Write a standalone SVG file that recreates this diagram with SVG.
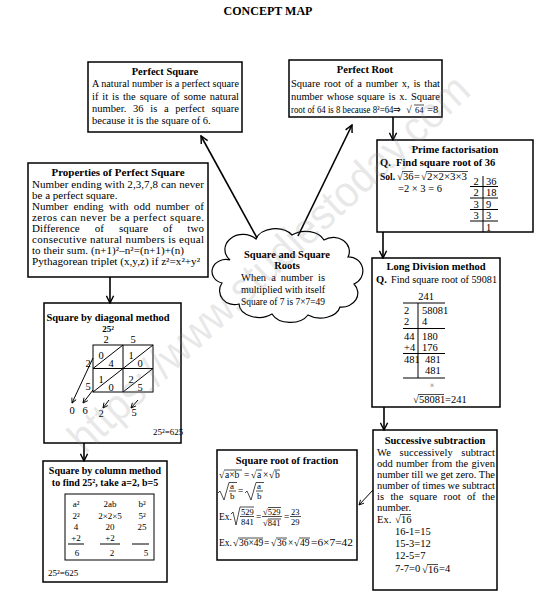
<svg xmlns="http://www.w3.org/2000/svg" width="539" height="598" viewBox="0 0 539 598">
<defs>
<style>
.t{font-family:"Liberation Serif","Times New Roman",serif;font-size:10.5px;fill:#000}
.b{font-weight:bold}
.m{text-anchor:middle}
.box{fill:#fff;stroke:#000;stroke-width:1.5}
.ln{stroke:#000;stroke-width:1;fill:none}
.ov{stroke:#000;stroke-width:0.7;fill:none}
.con{stroke:#000;stroke-width:1.6;fill:none}
.sm{font-size:8.5px}
.p{font-size:11px}
</style>
<marker id="ah" viewBox="0 0 10 10" refX="9" refY="5" markerWidth="9" markerHeight="9" markerUnits="userSpaceOnUse" orient="auto">
<path d="M1,1 L9,5 L1,9" fill="none" stroke="#000" stroke-width="1.6"/>
</marker>
<marker id="ahs" viewBox="0 0 10 10" refX="9" refY="5" markerWidth="6" markerHeight="6" markerUnits="userSpaceOnUse" orient="auto">
<path d="M1,1 L9,5 L1,9" fill="none" stroke="#000" stroke-width="1.5"/>
</marker>
</defs>
<rect width="539" height="598" fill="#fff"/>
<text class="t b m" x="268" y="15" style="font-size:12px">CONCEPT MAP</text>

<g id="perfect-square">
<rect class="box" x="88" y="62" width="154" height="70"/>
<text class="t b m" x="165" y="75">Perfect Square</text>
<text class="t" x="92" y="87" textLength="147" lengthAdjust="spacingAndGlyphs">A natural number is a perfect square</text>
<text class="t" x="92" y="99.5" word-spacing="1.2" textLength="147" lengthAdjust="spacing">if it is the square of some natural</text>
<text class="t" x="92" y="112" word-spacing="4" textLength="147" lengthAdjust="spacing">number. 36 is a perfect square</text>
<text class="t" x="92" y="124">because it is the square of 6.</text>
</g>

<g id="perfect-root">
<rect class="box" x="289" y="60" width="153" height="57"/>
<text class="t b m" x="365" y="73">Perfect Root</text>
<text class="t" x="291" y="87" word-spacing="1.2" textLength="149" lengthAdjust="spacing">Square root of a number x, is that</text>
<text class="t" x="291" y="100" word-spacing="1.2" textLength="149" lengthAdjust="spacing">number whose square is x. Square</text>
<text class="t" x="291" y="113" textLength="110" lengthAdjust="spacingAndGlyphs">root of 64 is 8 because 8²=64⇒</text>
<text class="t" x="406" y="113">√</text>
<text class="t sm" x="415" y="113">64</text>
<line class="ov" x1="414" y1="105" x2="424" y2="105"/>
<text class="t" x="427" y="113">=8</text>
</g>

<g id="properties">
<rect class="box" x="28" y="163" width="180" height="114"/>
<text class="t b m p" x="118" y="176">Properties of Perfect Square</text>
<text class="t p" x="32" y="188" textLength="172" lengthAdjust="spacing">Number ending with 2,3,7,8 can never</text>
<text class="t p" x="32" y="199">be a perfect square.</text>
<text class="t p" x="32" y="210" word-spacing="2.6" textLength="172" lengthAdjust="spacing">Number ending with odd number of</text>
<text class="t p" x="32" y="221" textLength="172" lengthAdjust="spacing">zeros can never be a perfect square.</text>
<text class="t p" x="32" y="232" word-spacing="12" textLength="172" lengthAdjust="spacing">Difference of square of two</text>
<text class="t p" x="32" y="243" textLength="172" lengthAdjust="spacing">consecutive natural numbers is equal</text>
<text class="t p" x="32" y="254" textLength="152" lengthAdjust="spacing">to their sum. (n+1)²–n²=(n+1)+(n)</text>
<text class="t p" x="32" y="265" textLength="168" lengthAdjust="spacingAndGlyphs">Pythagorean triplet (x,y,z) if z²=x²+y²</text>
</g>

<g id="cloud">
<path d="M230 260 a18 15 0 0 1 26 -21 a20 14 0 0 1 36 -4 a20 14 0 0 1 32 5 a16 14 0 0 1 24 17 a14 14 0 0 1 6 27 a16 14 0 0 1 -14 23 a20 14 0 0 1 -32 8 a20 14 0 0 1 -36 -1 a20 14 0 0 1 -33 -10 a15 14 0 0 1 -17 -21 a14 12 0 0 1 8 -23 z" fill="#fff" stroke="#000" stroke-width="1.2"/>
<text class="t b m" x="287" y="258">Square and Square</text>
<text class="t b m" x="287" y="269">Roots</text>
<text class="t" x="241" y="281" word-spacing="2.4" textLength="84" lengthAdjust="spacing">When a number is</text>
<text class="t" x="241" y="293" textLength="84" lengthAdjust="spacingAndGlyphs">multiplied with itself</text>
<text class="t" x="241" y="305" textLength="84" lengthAdjust="spacingAndGlyphs">Square of 7 is 7×7=49</text>
</g>

<g id="prime-factorisation">
<rect class="box" x="377" y="140" width="156" height="92"/>
<text class="t b m" x="455" y="153">Prime factorisation</text>
<text class="t b" x="380" y="166">Q.</text>
<text class="t b" x="396" y="166">Find square root of 36</text>
<text class="t b" x="380" y="180" style="font-size:9.5px">Sol.</text>
<text class="t" x="397" y="180">√</text>
<text class="t" x="403" y="180">36</text>
<line class="ov" x1="402" y1="171.5" x2="413" y2="171.5"/>
<text class="t" x="414" y="180">=</text>
<text class="t" x="421" y="180">√</text>
<text class="t" x="427" y="180" textLength="40" lengthAdjust="spacingAndGlyphs">2×2×3×3</text>
<line class="ov" x1="426" y1="171.5" x2="468" y2="171.5"/>
<text class="t" x="398" y="192">=2 × 3 = 6</text>
<line class="ln" x1="483" y1="176" x2="483" y2="232"/>
<line class="ln" x1="470" y1="186.5" x2="498" y2="186.5"/>
<line class="ln" x1="470" y1="198" x2="498" y2="198"/>
<line class="ln" x1="470" y1="209.5" x2="498" y2="209.5"/>
<line class="ln" x1="470" y1="221" x2="498" y2="221"/>
<text class="t m" x="476" y="184.5">2</text><text class="t" x="486" y="184.5">36</text>
<text class="t m" x="476" y="196">2</text><text class="t" x="486" y="196">18</text>
<text class="t m" x="476" y="207.5">3</text><text class="t" x="486" y="207.5">9</text>
<text class="t m" x="476" y="219">3</text><text class="t" x="486" y="219">3</text>
<text class="t" x="486" y="230.5">1</text>
</g>

<g id="long-division">
<rect class="box" x="372" y="258" width="128" height="149"/>
<text class="t b m" x="436" y="270">Long Division method</text>
<text class="t b" x="376" y="283">Q.</text>
<text class="t" x="391" y="283" textLength="106" lengthAdjust="spacingAndGlyphs">Find square root of 59081</text>
<text class="t m" x="426" y="300">241</text>
<line class="ln" x1="403" y1="303" x2="445" y2="303"/>
<line class="ln" x1="418" y1="303" x2="418" y2="378"/>
<text class="t" x="404" y="314">2</text><text class="t" x="422" y="314">58081</text>
<text class="t" x="404" y="325">2</text><text class="t" x="422" y="325">4</text>
<line class="ln" x1="403" y1="328.5" x2="445" y2="328.5"/>
<text class="t" x="404" y="340">44</text><text class="t" x="422" y="340">180</text>
<text class="t" x="404" y="351">+4</text><text class="t" x="422" y="351">176</text>
<line class="ln" x1="403" y1="353.5" x2="445" y2="353.5"/>
<text class="t" x="404" y="363">481</text><text class="t" x="425" y="363">481</text>
<text class="t" x="425" y="374">481</text>
<line class="ln" x1="403" y1="378" x2="445" y2="378"/>
<text class="t m" x="432" y="388" style="font-size:8px;fill:#555">×</text>
<text class="t" x="413" y="403">√</text>
<text class="t" x="419" y="403">58081</text>
<line class="ov" x1="418" y1="394.5" x2="444" y2="394.5"/>
<text class="t" x="445" y="403">=241</text>
</g>

<g id="successive-subtraction">
<rect class="box" x="373" y="430" width="124" height="160"/>
<text class="t b m" x="435" y="444">Successive subtraction</text>
<text class="t" x="377" y="456" word-spacing="6" textLength="118" lengthAdjust="spacing">We successively subtract</text>
<text class="t" x="377" y="467" word-spacing="0.6" textLength="118" lengthAdjust="spacing">odd number from the given</text>
<text class="t" x="377" y="478" textLength="118" lengthAdjust="spacingAndGlyphs">number till we get zero. The</text>
<text class="t" x="377" y="489" textLength="118" lengthAdjust="spacingAndGlyphs">number of times we subtract</text>
<text class="t" x="377" y="500" word-spacing="3.6" textLength="118" lengthAdjust="spacing">is the square root of the</text>
<text class="t" x="377" y="511">number.</text>
<text class="t" x="377" y="523">Ex.</text>
<text class="t" x="395" y="523">√</text>
<text class="t" x="401" y="523">16</text>
<line class="ov" x1="400" y1="514.5" x2="411" y2="514.5"/>
<text class="t" x="395" y="535">16-1=15</text>
<text class="t" x="395" y="547">15-3=12</text>
<text class="t" x="395" y="559">12-5=7</text>
<text class="t" x="395" y="572">7-7=0</text>
<text class="t" x="422" y="573">√</text>
<text class="t" x="428" y="573">16</text>
<line class="ov" x1="427" y1="564.5" x2="438" y2="564.5"/>
<text class="t" x="439" y="572">=4</text>
</g>

<g id="square-root-fraction">
<rect class="box" x="217" y="450" width="140" height="110"/>
<text class="t b m" x="287" y="464">Square root of fraction</text>
<text class="t" x="219" y="478" style="font-size:9.5px">√</text>
<text class="t" x="225" y="478" style="font-size:9.5px">a×b</text>
<line class="ov" x1="224" y1="470" x2="242" y2="470"/>
<text class="t" x="244" y="478" style="font-size:9.5px">=</text>
<text class="t" x="251" y="478" style="font-size:9.5px">√</text>
<text class="t" x="257" y="478" style="font-size:9.5px">a</text>
<line class="ov" x1="256" y1="470" x2="262" y2="470"/>
<text class="t" x="263" y="478" style="font-size:9.5px">×</text>
<text class="t" x="269" y="478" style="font-size:9.5px">√</text>
<text class="t" x="275" y="478" style="font-size:9.5px">b</text>
<line class="ov" x1="274" y1="470" x2="280" y2="470"/>

<polyline class="ov" points="218,493 220,491 224,500 229,482.5 237,482.5"/>
<text class="t" x="230" y="489" style="font-size:9px">a</text>
<line class="ov" x1="229" y1="491" x2="236" y2="491"/>
<text class="t" x="230" y="499" style="font-size:9px">b</text>
<text class="t" x="238" y="494" style="font-size:9.5px">=</text>
<polyline class="ov" points="245,493 247,491 251,500 256,482.5 264,482.5"/>
<text class="t" x="257" y="489" style="font-size:9px">a</text>
<line class="ov" x1="256" y1="491" x2="263" y2="491"/>
<text class="t" x="257" y="499" style="font-size:9px">b</text>

<text class="t" x="219" y="520" style="font-size:9.5px">Ex.</text>
<polyline class="ov" points="231,514 233,512 236,525 240,507 254,507"/>
<text class="t sm" x="241" y="514.5">529</text>
<line class="ov" x1="240" y1="516.5" x2="254" y2="516.5"/>
<text class="t sm" x="241" y="525">841</text>
<text class="t" x="256" y="520" style="font-size:9.5px">=</text>
<text class="t sm" x="263" y="514.5">√529</text>
<line class="ov" x1="268" y1="507.5" x2="281" y2="507.5"/>
<line class="ov" x1="262" y1="516.5" x2="282" y2="516.5"/>
<text class="t sm" x="263" y="526">√841</text>
<line class="ov" x1="268" y1="519" x2="281" y2="519"/>
<text class="t" x="284" y="520" style="font-size:9.5px">=</text>
<text class="t sm" x="291" y="514.5">23</text>
<line class="ov" x1="290" y1="516.5" x2="301" y2="516.5"/>
<text class="t sm" x="291" y="525">29</text>

<text class="t" x="219" y="546" style="font-size:9.5px">Ex.</text>
<text class="t" x="233" y="546" style="font-size:9.5px">√</text>
<text class="t" x="239" y="546" style="font-size:9.5px">36×49</text>
<line class="ov" x1="238" y1="538" x2="263" y2="538"/>
<text class="t" x="264" y="546" style="font-size:9.5px">=</text>
<text class="t" x="271" y="546" style="font-size:9.5px">√</text>
<text class="t" x="277" y="546" style="font-size:9.5px">36</text>
<line class="ov" x1="276" y1="538" x2="287" y2="538"/>
<text class="t" x="288" y="546" style="font-size:9.5px">×</text>
<text class="t" x="294" y="546" style="font-size:9.5px">√</text>
<text class="t" x="300" y="546" style="font-size:9.5px">49</text>
<line class="ov" x1="299" y1="538" x2="310" y2="538"/>
<text class="t" x="311" y="546" style="font-size:9.5px" textLength="42" lengthAdjust="spacingAndGlyphs">=6×7=42</text>
</g>

<g id="diagonal-method">
<rect class="box" x="44" y="303" width="137" height="140"/>
<text class="t b m" x="108" y="321">Square by diagonal method</text>
<text class="t b m" x="108" y="332" style="font-size:9px">25²</text>
<rect class="ln" x="93" y="345" width="60" height="47"/>
<line class="ln" x1="123" y1="345" x2="123" y2="392"/>
<line class="ln" x1="93" y1="368.5" x2="153" y2="368.5"/>
<line class="ln" x1="93" y1="368.5" x2="123" y2="345"/>
<line class="ln" x1="123" y1="368.5" x2="153" y2="345"/>
<line class="ln" x1="93" y1="392" x2="123" y2="368.5"/>
<line class="ln" x1="123" y1="392" x2="153" y2="368.5"/>
<text class="t m" x="106" y="343">2</text>
<text class="t m" x="133" y="343">5</text>
<text class="t m" x="101" y="359">0</text><text class="t m" x="111" y="367">4</text>
<text class="t m" x="131" y="359">1</text><text class="t m" x="140" y="367">0</text>
<text class="t m" x="101" y="383">1</text><text class="t m" x="111" y="390.5">0</text>
<text class="t m" x="131" y="383">2</text><text class="t m" x="140" y="390.5">5</text>
<text class="t m" x="88" y="367">2</text>
<text class="t m" x="88" y="390">5</text>
<line class="ln" x1="93" y1="358" x2="72" y2="403" marker-end="url(#ahs)"/>
<line class="ln" x1="93" y1="390" x2="83" y2="403" marker-end="url(#ahs)"/>
<line class="ln" x1="109" y1="400" x2="103" y2="408" marker-end="url(#ahs)"/>
<line class="ln" x1="138" y1="400" x2="131" y2="408" marker-end="url(#ahs)"/>
<text class="t m" x="72" y="414">0</text>
<text class="t m" x="85" y="414">6</text>
<text class="t m" x="101" y="417">2</text>
<text class="t m" x="134" y="416">5</text>
<text class="t" x="153" y="435" style="font-size:9px">25²=625</text>
</g>

<g id="column-method">
<rect class="box" x="43" y="461" width="124" height="121"/>
<text class="t b m" x="105" y="474" style="font-size:10px">Square by column method</text>
<text class="t b m" x="105" y="486" style="font-size:10px">to find 25², take a=2, b=5</text>
<rect class="ln" x="65" y="494" width="89" height="66"/>
<text class="t m" x="76" y="507" style="font-size:9px">a²</text><text class="t m" x="110" y="507" style="font-size:9px">2ab</text><text class="t m" x="142" y="507" style="font-size:9px">b²</text>
<text class="t m" x="76" y="519" style="font-size:9px">2²</text><text class="t m" x="110" y="519" style="font-size:9px">2×2×5</text><text class="t m" x="142" y="519" style="font-size:9px">5²</text>
<text class="t m" x="76" y="530" style="font-size:9px">4</text><text class="t m" x="110" y="530" style="font-size:9px">20</text><text class="t m" x="142" y="530" style="font-size:9px">25</text>
<text class="t m" x="76" y="541" style="font-size:9px">+2</text><text class="t m" x="110" y="541" style="font-size:9px">+2</text>
<line class="ln" x1="68" y1="544" x2="84" y2="544"/>
<line class="ln" x1="100" y1="544" x2="120" y2="544"/>
<line class="ln" x1="132" y1="544" x2="149" y2="544"/>
<text class="t m" x="77" y="556" style="font-size:9px">6</text><text class="t m" x="112" y="556" style="font-size:9px">2</text><text class="t m" x="146" y="556" style="font-size:9px">5</text>
<text class="t" x="48" y="576" style="font-size:9px">25²=625</text>
</g>

<g id="connectors">
<line class="con" x1="257" y1="238" x2="201" y2="136" marker-end="url(#ah)"/>
<line class="con" x1="298" y1="236" x2="352" y2="125" marker-end="url(#ah)"/>
<line class="con" x1="393" y1="117" x2="393" y2="140" marker-end="url(#ah)"/>
<line class="con" x1="383" y1="232" x2="383" y2="258" marker-end="url(#ah)"/>
<line class="con" x1="384" y1="407" x2="384" y2="430" marker-end="url(#ah)"/>
<line class="ln" x1="373" y1="490" x2="359" y2="505" marker-end="url(#ahs)"/>
<line class="con" x1="110" y1="277" x2="110" y2="303" marker-end="url(#ah)"/>
<line class="con" x1="84" y1="443" x2="84" y2="461" marker-end="url(#ah)"/>
</g>

<text x="85" y="455" transform="rotate(-43 85 455)" textLength="530" lengthAdjust="spacingAndGlyphs" style="font-family:'Liberation Sans',Arial,sans-serif;font-size:44px;fill:#888;fill-opacity:0.2">https://www.studiestoday.com</text>
</svg>
